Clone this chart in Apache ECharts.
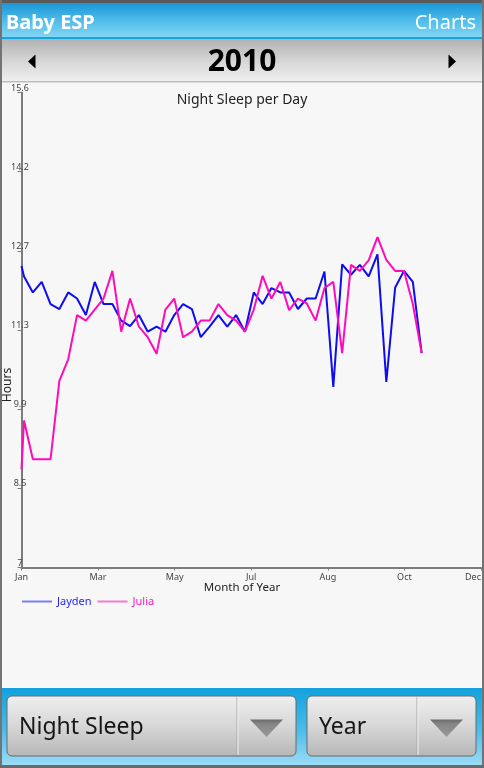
<!DOCTYPE html>
<html><head><meta charset="utf-8">
<script src="https://cdn.jsdelivr.net/npm/echarts@6/dist/echarts.min.js"></script>
<style>html,body{margin:0;padding:0;background:#6c6c6c;}#c{width:484px;height:768px;}</style>
</head><body><div id="c"></div>
<script>
// ---- data ----
const dates = ['2010-01-01','2010-01-03','2010-01-10','2010-01-17','2010-01-24','2010-01-31',
  '2010-02-07','2010-02-14','2010-02-21','2010-02-28',
  '2010-03-07','2010-03-14','2010-03-21','2010-03-28',
  '2010-04-04','2010-04-11','2010-04-18','2010-04-25',
  '2010-05-02','2010-05-09','2010-05-16','2010-05-23','2010-05-30',
  '2010-06-06','2010-06-13','2010-06-20','2010-06-27',
  '2010-07-04','2010-07-11','2010-07-18','2010-07-25',
  '2010-08-01','2010-08-08','2010-08-15','2010-08-22','2010-08-29',
  '2010-09-05','2010-09-12','2010-09-19','2010-09-26',
  '2010-10-03','2010-10-10','2010-10-17','2010-10-24','2010-10-31',
  '2010-11-07','2010-11-14'];
const jayden = [12.46,12.27,11.98,12.17,11.77,11.68,11.98,11.87,11.57,12.17,
  11.77,11.77,11.47,11.37,11.57,11.27,11.36,11.27,11.57,11.77,
  11.68,11.17,11.36,11.57,11.36,11.57,11.27,11.98,11.77,12.06,
  11.98,11.98,11.68,11.87,11.87,12.36,10.27,12.49,12.30,12.48,
  12.27,12.67,10.36,12.07,12.37,12.17,10.88];
const julia = [8.78,9.66,8.96,8.96,8.96,10.38,10.77,11.57,11.47,11.67,
  11.87,12.37,11.27,11.87,11.36,11.17,10.87,11.67,11.87,11.17,
  11.27,11.47,11.47,11.77,11.57,11.47,11.27,11.67,12.28,11.87,
  12.17,11.66,11.87,11.78,11.47,12.06,12.17,10.88,12.48,12.37,
  12.56,12.98,12.57,12.37,12.37,11.77,10.88];
const seriesNames = ['Jayden', 'Julia'];
const xTickLabels = ['Jan','Mar','May','Jul','Aug','Oct','Dec'];
const yTickLabels = ['7','8.5','9.9','11.3','12.7','14.2','15.6'];
const yMin = 7, yMax = 15.6;
const xStart = '2010-01-01', xEnd = '2010-12-31';

// ---- build ----
const toT = s => new Date(s + 'T00:00:00Z').getTime();
const t0 = toT(xStart), t1 = toT(xEnd);
const xTicks = xTickLabels.map((_, i) => t0 + i * (t1 - t0) / (xTickLabels.length - 1));
const yTicks = yTickLabels.map((_, i) => yMin + i * (yMax - yMin) / (yTickLabels.length - 1));
const nearest = (arr, v) => { let b = 0; arr.forEach((a, i) => { if (Math.abs(a - v) < Math.abs(arr[b] - v)) b = i; }); return b; };
const pairs = vals => dates.map((d, i) => [toT(d), vals[i]]);

const FONT = 'Noto Sans';
const lineColors = ['#0d0df0', '#ff0cb8'];
const legendText = ['#1f1fff', '#ff14c4'];
const legendIcon = ['#7c7cf6', '#f27ad6'];
const axisGray = '#7c7c7c';

const grad = (stops) => ({type: 'linear', x: 0, y: 0, x2: 0, y2: 1,
  colorStops: stops.map(s => ({offset: s[0], color: s[1]}))});

function spinner(x, w, divX, label) {
  return [
    {type: 'rect', shape: {x: x, y: 696, width: w, height: 60, r: 5},
     style: {fill: grad([[0, '#eeefee'], [0.5, '#d6d7d6'], [1, '#b6b6b6']]), stroke: '#6a6a6a', lineWidth: 1}},
    {type: 'line', shape: {x1: divX, y1: 697, x2: divX, y2: 755}, style: {stroke: '#a9a9a9', lineWidth: 1}},
    {type: 'line', shape: {x1: divX + 1, y1: 697, x2: divX + 1, y2: 755}, style: {stroke: '#f2f2f2', lineWidth: 1}},
    {type: 'polygon', shape: {points: [[divX + 13, 719.5], [divX + 46, 719.5], [divX + 29.5, 737]]},
     style: {fill: grad([[0, '#6a6a6a'], [0.25, '#858585'], [1, '#9a9a9a']])}},
    {type: 'text', x: x + 12, y: 727.5, style: {text: label, font: '23px "' + FONT + '"', fill: '#161616', verticalAlign: 'middle', align: 'left'}}
  ];
}

const graphics = [
  // frame
  {type: 'rect', shape: {x: 0, y: 0, width: 484, height: 3}, style: {fill: '#5a5a5a'}},
  {type: 'rect', shape: {x: 0, y: 0, width: 2, height: 768}, style: {fill: '#737373'}},
  {type: 'rect', shape: {x: 482, y: 0, width: 2, height: 768}, style: {fill: '#737373'}},
  {type: 'rect', shape: {x: 0, y: 765, width: 484, height: 3}, style: {fill: '#6a6a6a'}},
  // title bar
  {type: 'rect', shape: {x: 2, y: 3, width: 480, height: 35}, style: {fill: grad([[0, '#1896d5'], [0.5, '#4ebdea'], [1, '#86d6f4']])}},
  {type: 'rect', shape: {x: 2, y: 37, width: 480, height: 2}, style: {fill: '#11a6e1'}},
  {type: 'text', x: 6, y: 23.5, style: {text: 'Baby ESP', font: 'bold 20px "' + FONT + '"', fill: '#ffffff', verticalAlign: 'middle'}},
  {type: 'text', x: 476, y: 23.5, style: {text: 'Charts', font: '20px "' + FONT + '"', fill: '#ffffff', align: 'right', verticalAlign: 'middle'}},
  // year bar
  {type: 'rect', shape: {x: 2, y: 39, width: 480, height: 43}, style: {fill: grad([[0, '#b2b2b2'], [0.55, '#d8d8d8'], [1, '#f0f0f0']])}},
  {type: 'rect', shape: {x: 2, y: 81, width: 480, height: 1.5}, style: {fill: '#bfbfbf'}},
  {type: 'text', x: 242, y: 62.5, style: {text: '2010', font: 'bold 30px "' + FONT + '"', fill: '#000000', align: 'center', verticalAlign: 'middle'}},
  {type: 'polygon', shape: {points: [[28, 61.5], [35.5, 54.5], [35.5, 68.5]]}, style: {fill: '#000000'}},
  {type: 'polygon', shape: {points: [[456, 61.5], [448.5, 54.5], [448.5, 68.5]]}, style: {fill: '#000000'}},
  // axis titles
  {type: 'text', x: 8, y: 385, rotation: Math.PI / 2, style: {text: 'Hours', font: '12px "' + FONT + '"', fill: '#222222', align: 'center', verticalAlign: 'middle'}},
  {type: 'text', x: 242, y: 588, style: {text: 'Month of Year', font: '11.5px "' + FONT + '"', fill: '#222222', align: 'center', verticalAlign: 'middle'}},
  // bottom bar
  {type: 'rect', shape: {x: 2, y: 688, width: 480, height: 77}, style: {fill: grad([[0, '#13a1de'], [0.55, '#4bbcea'], [1, '#9bdcf5']])}}
].concat(spinner(7, 289, 237, 'Night Sleep'), spinner(307, 169, 417, 'Year'));

const chart = echarts.init(document.getElementById('c'));
chart.setOption({
  backgroundColor: '#f7f7f7',
  animation: false,
  title: {text: 'Night Sleep per Day', left: 'center', top: 88,
    textStyle: {fontFamily: FONT, fontSize: 14, fontWeight: 'normal', color: '#222222'}},
  legend: {left: 17, top: 591, icon: 'rect', itemWidth: 30, itemHeight: 2, itemGap: 6,
    textStyle: {fontFamily: FONT, fontSize: 11},
    data: seriesNames.map((n, i) => ({name: n, itemStyle: {color: legendIcon[i]}, textStyle: {color: legendText[i]}}))},
  grid: {left: 21.5, right: 2.5, top: 92.5, bottom: 200.5, containLabel: false},
  xAxis: {type: 'value', min: t0, max: t1,
    axisLine: {show: true, onZero: false, lineStyle: {color: axisGray, width: 2}},
    axisTick: {show: true, customValues: xTicks, length: 3, lineStyle: {color: axisGray}},
    axisLabel: {customValues: xTicks, margin: 5, fontFamily: FONT, fontSize: 9, color: '#444444',
      alignMaxLabel: 'right', formatter: v => xTickLabels[nearest(xTicks, v)]},
    splitLine: {show: false}},
  yAxis: {type: 'value', min: yMin, max: yMax,
    axisLine: {show: true, onZero: false, lineStyle: {color: axisGray, width: 2}},
    axisTick: {show: true, customValues: yTicks, length: 4, lineStyle: {color: axisGray}},
    axisLabel: {customValues: yTicks, margin: 1.5, align: 'center', verticalAlign: 'bottom',
      fontFamily: FONT, fontSize: 9, color: '#444444', formatter: v => yTickLabels[nearest(yTicks, v)]},
    splitLine: {show: false}},
  series: [jayden, julia].map((vals, i) => ({
    name: seriesNames[i], type: 'line', data: pairs(vals), showSymbol: false, symbol: 'none',
    color: lineColors[i], lineStyle: {width: 2, color: lineColors[i]}, z: 3 + i
  })),
  graphic: {elements: graphics}
});
</script>
</body></html>
